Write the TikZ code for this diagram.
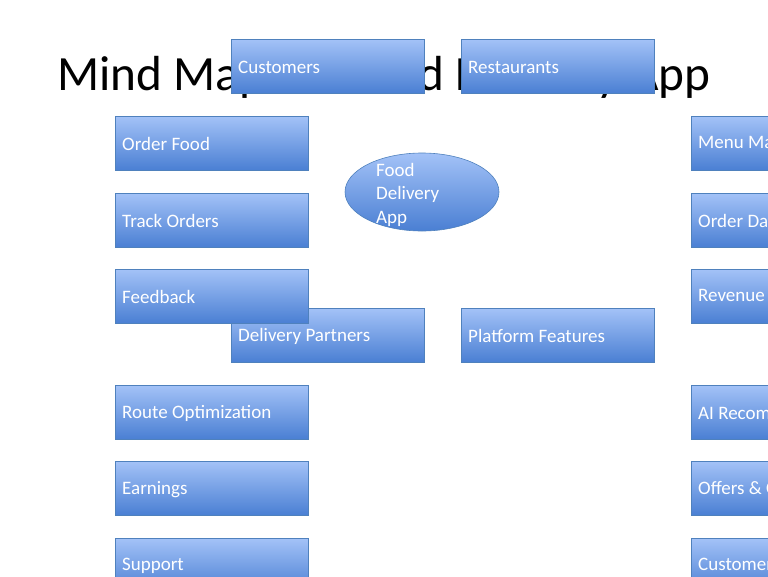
\documentclass[tikz,border=0pt]{standalone}
\usepackage{fontspec}
\setmainfont{Carlito}
\usetikzlibrary{shapes.geometric}
\definecolor{topb}{HTML}{A3C2F7}
\definecolor{botb}{HTML}{4A7FD3}
\definecolor{edgeb}{HTML}{4F81BD}
\tikzset{
  box/.style={draw=edgeb, line width=0.6pt, top color=topb, bottom color=botb,
    minimum width=193pt, minimum height=54pt, inner sep=0pt, anchor=north west},
  boxlabel/.style={anchor=west, text=white, font=\fontsize{19}{23}\selectfont, inner sep=0pt}
}
\newcommand{\bx}[4]{%
  \node[box] (#1) at (#2pt,-#3pt) {};
  \node[boxlabel] (#1t) at ([xshift=7pt,yshift=-1pt]#1.west) {#4};}
\begin{document}
\begin{tikzpicture}[x=1pt,y=1pt]
\useasboundingbox (0,0) rectangle (768,-576);
\clip (0,0) rectangle (768,-576);
\node[anchor=base, inner sep=0pt] (title) at (384,-90) {\resizebox{653pt}{!}{Mind Map for Food Delivery App}};
\bx{cust}{231}{39}{Customers}
\bx{rest}{461}{39}{Restaurants}
\bx{dp}{231}{308}{Delivery Partners}
\bx{pf}{461}{308}{Platform Features}
\node[ellipse, draw=edgeb, line width=0.6pt, top color=topb, bottom color=botb,
  minimum width=154pt, minimum height=78pt, inner sep=0pt] (app) at (422,-192) {};
\node[anchor=north west, text=white, font=\fontsize{19}{23.5}\selectfont, align=left, inner sep=0pt] (appt) at (376,-163) {Food\\Delivery\\App};
\bx{of}{115}{116}{Order Food}
\bx{to}{115}{193}{Track Orders}
\bx{fb}{115}{269}{Feedback}
\bx{ro}{115}{385}{Route Optimization}
\bx{ea}{115}{461}{Earnings}
\bx{su}{115}{538}{Support}
\bx{mm}{691}{116}{Menu Management}
\bx{od}{691}{193}{Order Dashboard}
\bx{rv}{691}{269}{Revenue Reports}
\bx{ai}{691}{385}{AI Recommendations}
\bx{oc}{691}{461}{Offers \& Coupons}
\bx{cs}{691}{538}{Customer Support}
\end{tikzpicture}
\end{document}
